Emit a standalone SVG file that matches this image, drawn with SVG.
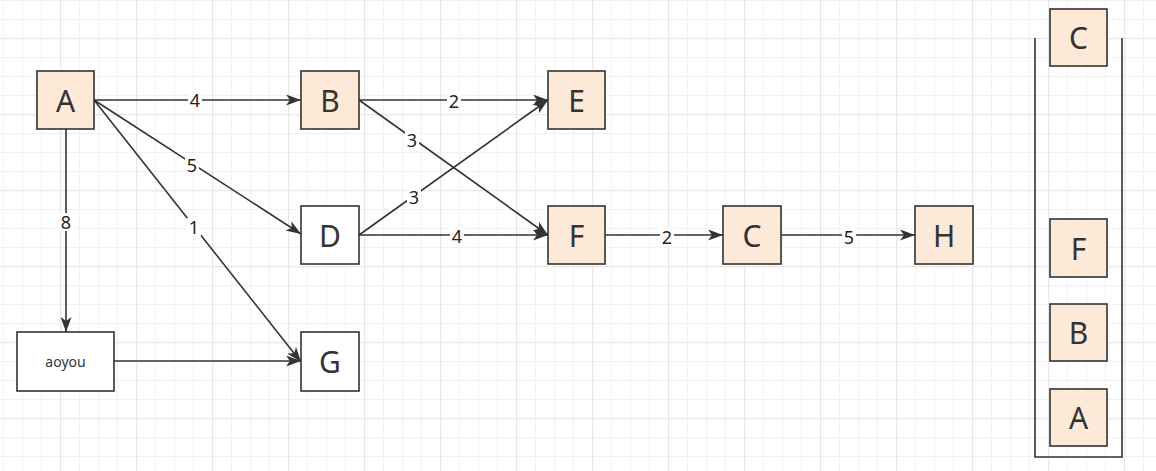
<svg xmlns="http://www.w3.org/2000/svg" width="1156" height="471" viewBox="0 0 1156 471">
<style>
.n{fill:#fce9d8;stroke:#333;stroke-width:1.6}
.w{fill:#fff;stroke:#333;stroke-width:1.6}
.t{font-family:"Noto Sans","Open Sans",sans-serif;font-size:30px;fill:#333;text-anchor:middle;dominant-baseline:central}
.s{font-family:"Noto Sans","Open Sans",sans-serif;font-size:14px;fill:#333;text-anchor:middle;dominant-baseline:central}
.e{stroke:#333;stroke-width:1.6;fill:none;marker-end:url(#ar)}
.lb{fill:#fff}
.l{font-family:"Noto Sans","Open Sans",sans-serif;font-size:18px;fill:#222;text-anchor:middle;dominant-baseline:central}
</style>
<defs>
<marker id="ar" viewBox="0 0 15 11" refX="15" refY="5.5" markerWidth="15" markerHeight="11" markerUnits="userSpaceOnUse" orient="auto">
<path d="M0,0 L15,5.5 L0,11 L4,5.5 z" fill="#333"/>
</marker>
<pattern id="minor" x="3" y="0" width="19" height="19" patternUnits="userSpaceOnUse">
<path d="M0.5,0 V19 M0,0.5 H19" stroke="#f1f1f1" stroke-width="1" fill="none"/>
</pattern>
<pattern id="major" x="60" y="38" width="76" height="76" patternUnits="userSpaceOnUse">
<path d="M0.5,0 V76 M0,0.5 H76" stroke="#e7e7e7" stroke-width="1.5" fill="none"/>
</pattern>
</defs>
<rect width="1156" height="471" fill="#fff"/>
<rect width="1156" height="471" fill="url(#minor)"/>
<rect width="1156" height="471" fill="url(#major)"/>

<g id="connectors">
<line class="e" x1="94" y1="100" x2="301" y2="100"/>
<line class="e" x1="94" y1="100" x2="301" y2="234"/>
<line class="e" x1="94" y1="100" x2="301" y2="362"/>
<line class="e" x1="66" y1="129" x2="66" y2="332"/>
<line class="e" x1="114" y1="361" x2="301" y2="361"/>
<line class="e" x1="359" y1="100" x2="548" y2="100"/>
<line class="e" x1="359" y1="100" x2="548" y2="235"/>
<line class="e" x1="359" y1="235" x2="548" y2="100"/>
<line class="e" x1="359" y1="235" x2="548" y2="235"/>
<line class="e" x1="605" y1="235" x2="723" y2="235"/>
<line class="e" x1="781" y1="235" x2="915" y2="235"/>
<g id="labels">
<rect class="lb" x="188" y="91" width="14" height="18"/><text class="l" x="195" y="100">4</text>
<rect class="lb" x="185" y="156" width="14" height="18"/><text class="l" x="192" y="165">5</text>
<rect class="lb" x="187" y="218" width="14" height="18"/><text class="l" x="194" y="227">1</text>
<rect class="lb" x="59" y="213" width="14" height="18"/><text class="l" x="66" y="222">8</text>
<rect class="lb" x="447" y="92" width="14" height="18"/><text class="l" x="454" y="101">2</text>
<rect class="lb" x="405" y="131" width="14" height="18"/><text class="l" x="412" y="140">3</text>
<rect class="lb" x="407" y="188" width="14" height="18"/><text class="l" x="414" y="197">3</text>
<rect class="lb" x="450" y="227" width="14" height="18"/><text class="l" x="457" y="236">4</text>
<rect class="lb" x="660" y="228" width="14" height="18"/><text class="l" x="667" y="237">2</text>
<rect class="lb" x="842" y="228" width="14" height="18"/><text class="l" x="849" y="237">5</text>
</g>
</g>

<g id="node-A"><rect class="n" x="37" y="71" width="57" height="58"/><text class="t" x="65.5" y="100">A</text></g>
<g id="node-B"><rect class="n" x="301" y="71" width="58" height="58"/><text class="t" x="330" y="100">B</text></g>
<g id="node-E"><rect class="n" x="548" y="71" width="57" height="58"/><text class="t" x="576.5" y="100">E</text></g>
<g id="node-D"><rect class="w" x="301" y="206" width="58" height="58"/><text class="t" x="330" y="235">D</text></g>
<g id="node-F"><rect class="n" x="548" y="206" width="57" height="58"/><text class="t" x="576.5" y="235">F</text></g>
<g id="node-C"><rect class="n" x="723" y="206" width="58" height="58"/><text class="t" x="752" y="235">C</text></g>
<g id="node-H"><rect class="n" x="915" y="206" width="58" height="58"/><text class="t" x="944" y="235">H</text></g>
<g id="node-G"><rect class="w" x="301" y="332" width="58" height="59"/><text class="t" x="330" y="361.5">G</text></g>
<g id="node-aoyou"><rect class="w" x="17" y="332" width="97" height="59"/><text class="s" x="65.5" y="361">aoyou</text></g>

<g id="stack">
<path d="M1035,38 V457 H1122 V38" fill="none" stroke="#333" stroke-width="1.6"/>
<g id="stack-C"><rect class="n" x="1050" y="9" width="57" height="57"/><text class="t" x="1078.5" y="37.5">C</text></g>
<g id="stack-F"><rect class="n" x="1050" y="219" width="57" height="58"/><text class="t" x="1078.5" y="248">F</text></g>
<g id="stack-B"><rect class="n" x="1050" y="304" width="57" height="57"/><text class="t" x="1078.5" y="332.5">B</text></g>
<g id="stack-A"><rect class="n" x="1050" y="389" width="57" height="57"/><text class="t" x="1078.5" y="417.5">A</text></g>
</g>
</svg>
